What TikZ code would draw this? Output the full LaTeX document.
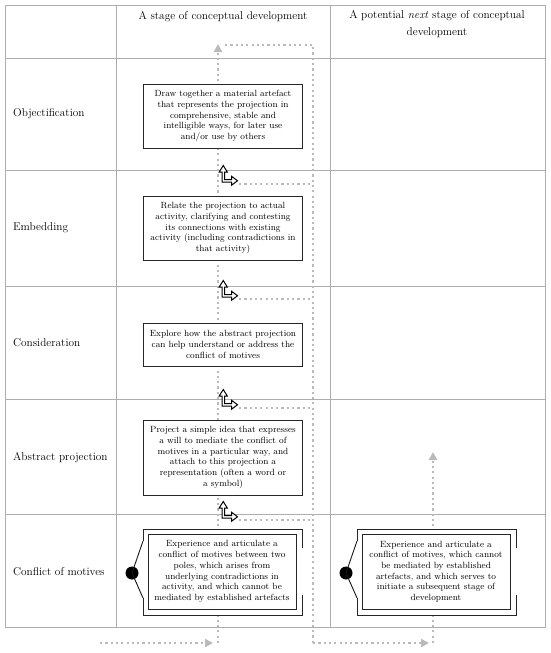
\documentclass[tikz,border=0pt]{standalone}
\usetikzlibrary{arrows.meta}
\begin{document}
\begin{tikzpicture}[x=1pt,y=-1pt,
  gridline/.style={draw=black!32, line width=0.8pt},
  flow/.style={draw=black!27, line width=2.2pt, dash pattern=on 2.2pt off 3.1pt},
  flowarrow/.style={flow, -{Triangle[length=8pt,width=8pt,color=black!27,fill=black!27]}},
  stagebox/.style={draw=black!85, fill=white, line width=1pt, align=center,
    font=\fontsize{9}{10.7}\selectfont, inner sep=0pt, minimum width=159pt},
  innerbox/.style={stagebox, minimum width=148pt, minimum height=75pt},
  rowlabel/.style={anchor=west, font=\fontsize{11.3}{14}\selectfont, inner sep=0pt},
  headlabel/.style={align=center, font=\fontsize{11.3}{16.6}\selectfont, inner sep=0pt},
  frame/.style={draw=black!85, line width=1pt},
  poledot/.style={circle, fill=black, inner sep=0pt, minimum size=13pt},
  poleline/.style={draw=black!90, line width=0.9pt},
  loopicon/.pic={
    \draw[fill=white, draw=black, line width=1pt, line join=miter]
      (0,0) -- (0,-10) -- (-2.8,-10) -- (1.25,-16.5) -- (5.3,-10) -- (2.5,-10)
      -- (2.5,-2.5) -- (9.5,-2.5) -- (9.5,-5.8) -- (15.5,-1.25) -- (9.5,3.3) -- (9.5,0) -- cycle;
  }
]
\useasboundingbox (0,0) rectangle (550,653);
\fill[white] (0,0) rectangle (550,653);

% table grid
\draw[gridline] (5,5) rectangle (545,627);
\draw[gridline] (116,5) -- (116,627);
\draw[gridline] (330,5) -- (330,627);
\foreach \yy in {58,170,286,399,514} \draw[gridline] (5,\yy) -- (545,\yy);

% header
\node[headlabel] (h1) at (223,17) {A stage of conceptual development};
\node[headlabel, anchor=north] (h2) at (437,10.5) {A potential \textit{next} stage of conceptual\\ development};

% row labels
\node[rowlabel] (r1) at (13,114) {Objectification};
\node[rowlabel] (r2) at (13,228) {Embedding};
\node[rowlabel] (r3) at (13,343) {Consideration};
\node[rowlabel] (r4) at (13,458) {Abstract projection};
\node[rowlabel] (r5) at (13,572) {Conflict of motives};

% flow coordinates
\coordinate (inS) at (100,643);
\coordinate (inE) at (213,643);
\coordinate (upB) at (218,643);
\coordinate (upT) at (218,44);
\coordinate (topA) at (225,45);
\coordinate (topB) at (313,45);
\coordinate (botB) at (313,643);
\coordinate (outE) at (429,643);
\coordinate (nxB) at (433,643);
\coordinate (nxT) at (433,452);

\draw[flowarrow] (inS) -- (inE);
\draw[flowarrow] (upB) -- (upT);
\draw[flow] (topA) -- (topB) -- (botB);
\draw[flowarrow] (botB) -- (outE);
\draw[flowarrow] (nxB) -- (nxT);

% loop returns
\foreach \n/\yy in {1/184,2/299,3/408,4/520}{
  \coordinate (lp\n) at (239,\yy);
  \coordinate (lq\n) at (313,\yy);
  \draw[flow] (lp\n) -- (lq\n);
}

% stage boxes
\node[stagebox, minimum height=64pt] (b1) at (223,116) {Draw together a material artefact\\ that represents the projection in\\ comprehensive, stable and\\ intelligible ways, for later use\\ and/or use by others};
\node[stagebox, minimum height=64pt] (b2) at (223,228) {Relate the projection to actual\\ activity, clarifying and contesting\\ its connections with existing\\ activity (including contradictions in\\ that activity)};
\node[stagebox, minimum height=43pt] (b3) at (223,344.5) {Explore how the abstract projection\\ can help understand or address the\\ conflict of motives};
\node[stagebox, minimum height=75pt] (b4) at (223,457.5) {Project a simple idea that expresses\\ a will to mediate the conflict of\\ motives in a particular way, and\\ attach to this projection a\\ representation (often a word or\\ a symbol)};

% icons
\foreach \yy in {182,297,406,518} \pic at (222,\yy) {loopicon};

% conflict box 1
\fill[white] (143,529) rectangle (302,615);
\draw[frame] (143,541) -- (143,529) -- (302,529) -- (302,548);
\draw[frame] (302,595) -- (302,615) -- (143,615) -- (143,598);
\node[innerbox] (c1) at (222,571.5) {Experience and articulate a\\ conflict of motives between two\\ poles, which arises from\\ underlying contradictions in\\ activity, and which cannot be\\ mediated by established artefacts};
\coordinate (c1a) at (143,541);
\coordinate (c1b) at (143,598);
\node[poledot] (d1) at (132,573) {};
\draw[poleline] (d1.center) -- (c1a);
\draw[poleline] (d1.center) -- (c1b);

% conflict box 2
\fill[white] (357,529) rectangle (516,615);
\draw[frame] (357,541) -- (357,529) -- (516,529) -- (516,548);
\draw[frame] (516,595) -- (516,615) -- (357,615) -- (357,598);
\node[innerbox] (c2) at (436,571.5) {Experience and articulate a\\ conflict of motives, which cannot\\ be mediated by established\\ artefacts, and which serves to\\ initiate a subsequent stage of\\ development};
\coordinate (c2a) at (357,541);
\coordinate (c2b) at (357,598);
\node[poledot] (d2) at (346,573) {};
\draw[poleline] (d2.center) -- (c2a);
\draw[poleline] (d2.center) -- (c2b);
\end{tikzpicture}
\end{document}
